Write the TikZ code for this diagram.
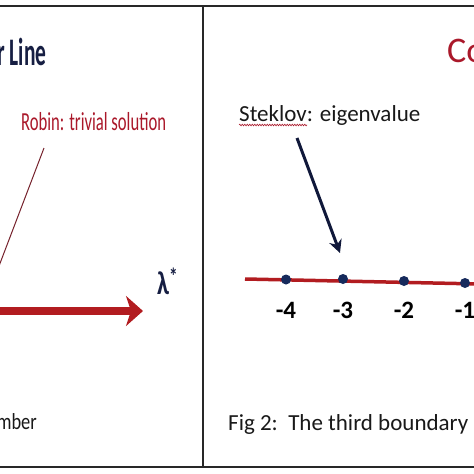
\documentclass[tikz,border=0pt]{standalone}
\usepackage{fontspec}
\setmainfont{Carlito}
\usetikzlibrary{arrows.meta,decorations.pathmorphing}
\definecolor{titlenavy}{RGB}{22,30,66}
\definecolor{robinred}{RGB}{170,24,42}
\definecolor{robinline}{RGB}{118,34,44}
\definecolor{axisred}{RGB}{178,28,32}
\definecolor{steknavy}{RGB}{16,24,58}
\definecolor{dotnavy}{RGB}{22,42,92}
\definecolor{framegray}{RGB}{40,40,40}

\begin{document}
\begin{tikzpicture}[x=1pt,y=-1pt,
  frame/.style={draw=framegray,line width=1.6pt},
  title/.style={anchor=base west,inner sep=0pt,font=\fontsize{36}{40}\selectfont},
  label/.style={anchor=base west,inner sep=0pt,text=black!90,font=\fontsize{23}{27}\selectfont},
  tick/.style={anchor=base,inner sep=0pt,font=\bfseries\fontsize{25}{28}\selectfont},
  pt/.style={circle,fill=dotnavy,inner sep=0pt,minimum size=10pt},
  bigarr/.style={-{Stealth[length=17pt,width=30pt,inset=5pt]},line width=8.5pt,draw=axisred},
  navyarr/.style={-{Stealth[length=13pt,width=13pt]},line width=3pt,draw=steknavy}]

  \clip (0,0) rectangle (474,474);
  \fill[white] (0,0) rectangle (474,474);

  % frame of the two panels
  \draw[frame] (-5,6) -- (480,6);
  \draw[frame] (-5,467) -- (480,467);
  \draw[frame] (203,6) -- (203,467);

  % left panel
  \node[title,text=titlenavy,font=\fontsize{39}{42}\selectfont] (ltitle) at (-3,65)
    {\bfseries\scalebox{0.55}[1]{r Line}};
  \node[label,text=robinred,font=\fontsize{26}{30}\selectfont] (robin) at (21,130)
    {\scalebox{0.64}[1]{Robin: trivial solution}};
  \coordinate (robintop) at (44,148);
  \coordinate (robinfoot) at (-1,266);
  \draw[robinline,line width=1pt] (robintop) -- (robinfoot);

  \coordinate (axisstart) at (-5,311);
  \coordinate (axistip) at (143,311);
  \draw[bigarr] (axisstart) -- (axistip);
  \node[label,text=titlenavy,font=\bfseries\fontsize{33}{36}\selectfont] (lam) at (157,294)
    {\scalebox{0.75}[1]{λ\textsuperscript{*}}};

  \node[label,anchor=base east,font=\fontsize{23}{26}\selectfont] (number) at (37,429)
    {\scalebox{0.8}[1]{mber}};

  % right panel
  \node[title,text=robinred] (rtitle) at (447,62) {Co};
  \node[label] (steklov) at (239,121) {Steklov: eigenvalue};
  \draw[robinred,line width=0.6pt,decorate,
    decoration={snake,amplitude=0.8pt,segment length=2.5pt}]
    (steklov.base west) ++(0,4) -- ++(68,0);

  \coordinate (axisleft) at (245,279);
  \coordinate (axisright) at (480,284);
  \draw[axisred,line width=3.5pt] (axisleft) -- (axisright);
  \foreach \v/\x/\y in {-4/286/279.5,-3/343/279,-2/404/281,-1/465/283}{
    \node[pt] (d\v) at (\x,\y) {};
    \node[tick] (t\v) at (\x,318) {\v};
  }

  \coordinate (stekfrom) at (297,138);
  \coordinate (stekto) at (340,253);
  \draw[navyarr] (stekfrom) -- (stekto);

  \node[label] (caption) at (228,430) {Fig 2:\ \ The third boundary};

\end{tikzpicture}
\end{document}
